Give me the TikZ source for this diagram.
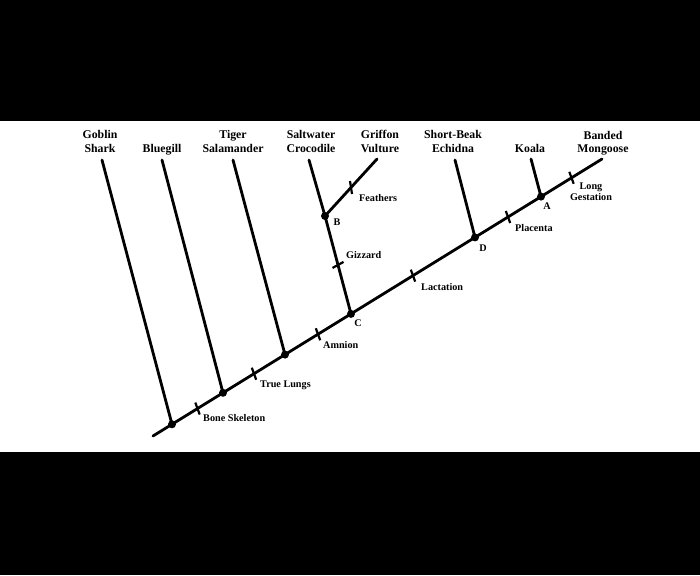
\documentclass[tikz,border=0pt]{standalone}
\usepackage{fontspec}
\setmainfont{Liberation Serif}
\usetikzlibrary{calc}
\begin{document}
\begin{tikzpicture}[x=1pt,y=-1pt,
  branch/.style={line width=2.8pt, line cap=round},
  tickmark/.style={line width=2.2pt},
  dot/.style={circle, fill=black, inner sep=0pt, minimum size=8pt},
  taxon/.style={font=\fontsize{11.8}{13.2}\selectfont\bfseries, align=center, inner sep=0pt},
  trait/.style={font=\fontsize{10.2}{11.2}\selectfont\bfseries, inner sep=0pt, anchor=west, text height=7pt, text depth=0pt},
  letter/.style={font=\fontsize{10.2}{11.2}\selectfont\bfseries, inner sep=0pt}]
% background bands
\fill[black] (0,0) rectangle (700,575);
\fill[white] (0,121) rectangle (700,452);
\useasboundingbox (0,0) rectangle (700,575);
% main axis
\coordinate (root) at (153,436);
\coordinate (end) at (602,159);
\node[dot] (n1) at (172,424.3) {};
\node[dot] (n2) at (223,392.8) {};
\node[dot] (n3) at (285,354.6) {};
\node[dot] (C) at (351,313.9) {};
\node[dot] (D) at (475,237.4) {};
\node[dot] (A) at (541,196.6) {};
\node[dot] (B) at (325,216) {};
% leaf tips
\coordinate (t1) at (102,160);
\coordinate (t2) at (162,160);
\coordinate (t3) at (233,160);
\coordinate (t4) at (309,160);
\coordinate (t5) at (377,159);
\coordinate (t6) at (455,160);
\coordinate (t7) at (531,159);
% branches
\draw[branch] (root) -- (end);
\draw[branch] (n1.center) -- (t1);
\draw[branch] (n2.center) -- (t2);
\draw[branch] (n3.center) -- (t3);
\draw[branch] (C.center) -- (B.center);
\draw[branch] (B.center) -- (t4);
\draw[branch] (B.center) -- (t5);
\draw[branch] (D.center) -- (t6);
\draw[branch] (A.center) -- (t7);
% trait ticks
\draw[tickmark] ($(n1)!0.5!(n2)$) ++(-2.2,-6) -- ++(4.4,12);
\draw[tickmark] ($(n2)!0.5!(n3)$) ++(-2.2,-6) -- ++(4.4,12);
\draw[tickmark] ($(n3)!0.5!(C)$) ++(-2.2,-6) -- ++(4.4,12);
\draw[tickmark] ($(C)!0.5!(D)$) ++(-2.2,-6) -- ++(4.4,12);
\draw[tickmark] ($(D)!0.5!(A)$) ++(-2.2,-6) -- ++(4.4,12);
\draw[tickmark] ($(A)!0.5!(end)$) ++(-2.2,-6) -- ++(4.4,12);
\draw[tickmark] ($(C)!0.5!(B)$) ++(-5.5,3) -- ++(11,-6);
\draw[tickmark] ($(B)!0.5!(t5)$) ++(-1,-6.5) -- ++(2,13);
% taxon labels
\node[taxon] (l1) at (100,141.5) {Goblin\\Shark};
\node[taxon] (l2) at (162,149.5) {Bluegill};
\node[taxon] (l3) at (233,141.5) {Tiger\\Salamander};
\node[taxon] (l4) at (311,141.5) {Saltwater\\Crocodile};
\node[taxon] (l5) at (380,141.5) {Griffon\\Vulture};
\node[taxon] (l6) at (453,141.5) {Short-Beak\\Echidna};
\node[taxon] (l7) at (530,148.5) {Koala};
\node[taxon] (l8) at (603,143) {Banded\\Mongoose};
% trait labels
\node[trait] (f1) at (359,198) {Feathers};
\node[trait] (f2) at (346,255) {Gizzard};
\node[trait] (f3) at (421,287) {Lactation};
\node[trait] (f4) at (515,228) {Placenta};
\node[trait] (f5) at (323,345) {Amnion};
\node[trait] (f6) at (260,384) {True Lungs};
\node[trait] (f7) at (203,418) {Bone Skeleton};
\node[letter, align=center] (f8) at (591,191.5) {Long\\Gestation};
% clade letters
\node[letter] (lb) at (337,222) {B};
\node[letter] (ld) at (483,248) {D};
\node[letter] (la) at (547,206) {A};
\node[letter] (lc) at (358,323) {C};
\end{tikzpicture}
\end{document}
